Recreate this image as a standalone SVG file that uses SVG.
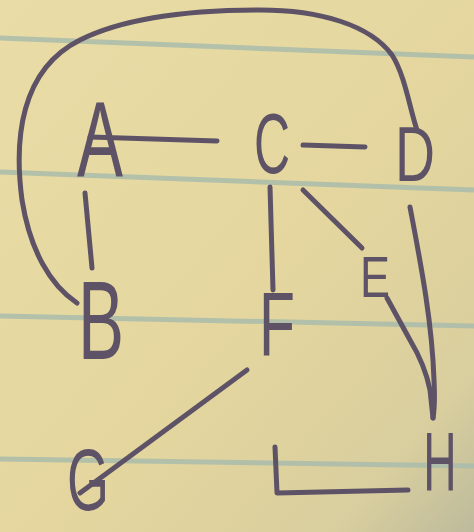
<svg xmlns="http://www.w3.org/2000/svg" width="474" height="532" viewBox="0 0 474 532">
<defs>
<linearGradient id="paper" x1="0" y1="0" x2="1" y2="1">
<stop offset="0" stop-color="#e9dca6"/>
<stop offset="0.55" stop-color="#e4d69e"/>
<stop offset="0.85" stop-color="#d9ce9e"/>
<stop offset="1" stop-color="#bdbb9c"/>
</linearGradient>
</defs>
<style>
.rule{stroke:#a9bcab;stroke-width:5;fill:none;opacity:0.85}
.edge{stroke:#5e5366;stroke-width:5;fill:none;stroke-linecap:round;stroke-linejoin:round}
.lbl{font-family:"Liberation Sans","DejaVu Sans",sans-serif;fill:#5e5366;text-anchor:middle}
</style>
<rect width="474" height="532" fill="url(#paper)"/>
<g id="rules">
<line class="rule" x1="0" y1="38" x2="474" y2="57"/>
<line class="rule" x1="0" y1="172" x2="474" y2="190"/>
<line class="rule" x1="0" y1="316" x2="474" y2="326"/>
<line class="rule" x1="0" y1="459" x2="474" y2="466"/>
</g>
<g id="connectors">
<path class="edge" d="M77,303 C50,285 30,250 22,200 C14,140 20,70 80,40 C130,15 200,10 260,10 C320,10 370,25 392,55 C405,75 410,110 417,130"/>
<path class="edge" d="M90,137 L217,141"/>
<path class="edge" d="M303,145 L365,147"/>
<path class="edge" d="M85,193 L92,268"/>
<path class="edge" d="M270,187 L273,290"/>
<path class="edge" d="M303,190 L362,248"/>
<path class="edge" d="M410,207 C420,260 432,320 434,380 C435,400 434,412 433,418"/>
<path class="edge" d="M387,298 L410,340 Q425,365 430,390 L433,418"/>
<path class="edge" d="M247,370 L80,493"/>
<path class="edge" d="M275,447 L277,493 L408,490"/>
</g>
<g id="node-A"><text class="lbl" x="100" y="177" font-size="108" textLength="46" lengthAdjust="spacingAndGlyphs">A</text></g>
<g id="node-C"><text class="lbl" x="272" y="173" font-size="86" textLength="36" lengthAdjust="spacingAndGlyphs">C</text></g>
<g id="node-D"><text class="lbl" x="415" y="181" font-size="78" textLength="40" lengthAdjust="spacingAndGlyphs">D</text></g>
<g id="node-B"><text class="lbl" x="101" y="359" font-size="112" textLength="46" lengthAdjust="spacingAndGlyphs">B</text></g>
<g id="node-F"><text class="lbl" x="277" y="355" font-size="90" textLength="36" lengthAdjust="spacingAndGlyphs">F</text></g>
<g id="node-E"><text class="lbl" x="375" y="297" font-size="58" textLength="30" lengthAdjust="spacingAndGlyphs">E</text></g>
<g id="node-G"><text class="lbl" x="88" y="510" font-size="88" textLength="42" lengthAdjust="spacingAndGlyphs">G</text></g>
<g id="node-H"><text class="lbl" transform="translate(440,491) scale(0.55,1)" font-size="84">H</text></g>
</svg>
